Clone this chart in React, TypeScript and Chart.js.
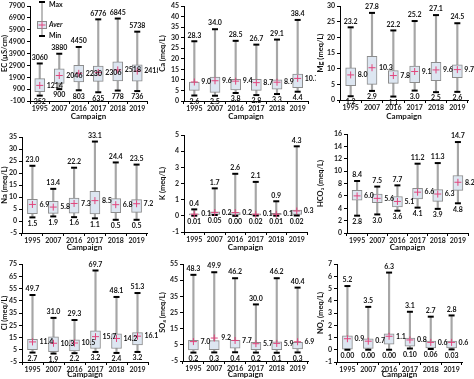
import React, { useEffect, useRef } from 'react';
import { Chart, registerables } from 'chart.js';
Chart.register(...registerables);

const FONT = 'Lato, "DejaVu Sans", sans-serif';

const CAMPAIGNS = ['1995', '2007', '2016', '2017', '2018', '2019'];

const EC_MAX = [3060, 3880, 4450, 6776, 6845, 5738];
const EC_Q3 = [1780, 2600, 2900, 2850, 3200, 2950];
const EC_MEAN = [1214, 2046, 2230, 2306, 2518, 2418];
const EC_Q1 = [680, 1370, 1500, 1550, 1600, 1560];
const EC_MIN = [352, 900, 803, 635, 778, 736];
const EC_TICKS = [-100, 900, 1900, 2900, 3900, 4900, 5900, 6900, 7900];

const CA_MAX = [28.3, 34.0, 28.5, 26.7, 29.1, 38.4];
const CA_Q3 = [9.0, 11.3, 10.3, 10.3, 10.0, 12.8];
const CA_MEAN = [9.0, 9.6, 9.4, 8.7, 8.9, 10.7];
const CA_Q1 = [5.0, 4.1, 5.3, 5.0, 5.6, 6.3];
const CA_MIN = [2.6, 2.5, 3.8, 2.8, 3.3, 4.4];
const CA_TICKS = [0, 5, 10, 15, 20, 25, 30, 35, 40, 45];

const MG_MAX = [23.2, 27.8, 22.2, 25.2, 27.1, 24.5];
const MG_Q3 = [10.3, 13.9, 9.4, 10.8, 12.0, 11.2];
const MG_MEAN = [8.0, 10.3, 7.8, 9.1, 9.6, 9.7];
const MG_Q1 = [4.6, 5.0, 5.3, 5.5, 6.2, 7.1];
const MG_MIN = [1.2, 2.9, 1.1, 3.0, 2.5, 2.6];
const MG_TICKS = [0, 5, 10, 15, 20, 25, 30];

const NA_MAX = [23.0, 13.4, 22.2, 33.1, 24.4, 23.5];
const NA_Q3 = [9.0, 8.2, 9.6, 12.4, 9.3, 8.9];
const NA_MEAN = [6.9, 5.8, 7.3, 8.5, 6.8, 7.2];
const NA_Q1 = [3.1, 3.2, 3.3, 2.9, 3.5, 3.6];
const NA_MIN = [1.5, 1.9, 1.6, 1.1, 0.5, 0.5];
const NA_TICKS = [-5, 0, 5, 10, 15, 20, 25, 30, 35];

const K_MAX = [0.4, 1.7, 2.6, 2.1, 0.9, 4.3];
const K_Q3 = [0.13, 0.25, 0.2, 0.12, 0.15, 0.36];
const K_MEAN = [0.1, 0.2, 0.2, 0.1, 0.1, 0.3];
const K_Q1 = [0.05, 0.08, 0.05, 0.04, 0.05, 0.08];
const K_MIN = [0.01, 0.05, 0.0, 0.02, 0.01, 0.02];
const K_TICKS = [-1, 0, 1, 2, 3, 4, 5];

const HCO3_MAX = [8.4, 7.5, 7.7, 11.2, 11.3, 14.7];
const HCO3_Q3 = [6.9, 6.3, 5.9, 7.2, 7.0, 9.3];
const HCO3_MEAN = [6.0, 5.6, 5.1, 6.6, 6.3, 8.2];
const HCO3_Q1 = [5.3, 4.9, 4.2, 5.5, 5.1, 6.9];
const HCO3_MIN = [2.8, 3.0, 3.6, 4.1, 3.9, 4.8];
const HCO3_TICKS = [0, 2, 4, 6, 8, 10, 12, 14, 16];

const CL_MAX = [49.7, 31.0, 29.3, 69.7, 48.1, 51.3];
const CL_Q3 = [13.5, 15.5, 13.0, 20.5, 18.0, 19.0];
const CL_MEAN = [11.4, 10.3, 10.5, 15.7, 14.2, 16.1];
const CL_Q1 = [5.0, 3.5, 4.0, 6.0, 6.0, 9.0];
const CL_MIN = [2.7, 1.9, 2.2, 3.2, 2.4, 3.2];
const CL_TICKS = [-5, 5, 15, 25, 35, 45, 55, 65, 75];

const SO4_MAX = [48.3, 49.9, 46.2, 30.0, 46.2, 40.4];
const SO4_Q3 = [7.8, 7.6, 7.8, 6.6, 6.8, 6.6];
const SO4_MEAN = [7.0, 9.2, 7.7, 5.7, 5.9, 6.9];
const SO4_Q1 = [1.8, 2.0, 3.0, 2.0, 2.0, 2.5];
const SO4_MIN = [0.2, 0.3, 0.4, 0.2, 0.1, 0.3];
const SO4_TICKS = [-5, 5, 15, 25, 35, 45, 55];

const NO3_MAX = [5.2, 3.5, 6.3, 3.1, 2.7, 2.8];
const NO3_Q3 = [1.14, 0.9, 1.3, 0.95, 0.7, 0.7];
const NO3_MEAN = [0.9, 0.7, 1.1, 0.8, 0.6, 0.6];
const NO3_Q1 = [0.05, 0.1, 0.45, 0.3, 0.15, 0.15];
const NO3_MIN = [0.0, 0.0, 0.0, 0.1, 0.06, 0.03];
const NO3_TICKS = [-1, 0, 1, 2, 3, 4, 5, 6, 7];

type Panel = {
  title: string;
  ticks: number[];
  max: number[];
  q3: number[];
  mean: number[];
  q1: number[];
  min: number[];
  dec: number;
  minDec: number;
  x0: number; y0: number; w: number; h: number;
  L: number; T: number; R: number; B: number;
  legend?: boolean;
};

const PANELS: Panel[] = [
  { title: 'EC (µS/cm)', ticks: EC_TICKS, max: EC_MAX, q3: EC_Q3, mean: EC_MEAN, q1: EC_Q1, min: EC_MIN, dec: 0, minDec: 0,
    x0: 0, y0: 0, w: 158, h: 121, L: 30, T: 5, R: 147, B: 101, legend: true },
  { title: 'Ca (meq/L)', ticks: CA_TICKS, max: CA_MAX, q3: CA_Q3, mean: CA_MEAN, q1: CA_Q1, min: CA_MIN, dec: 1, minDec: 1,
    x0: 158, y0: 0, w: 158, h: 121, L: 184, T: 5, R: 308, B: 101 },
  { title: 'Mg (meq/L)', ticks: MG_TICKS, max: MG_MAX, q3: MG_Q3, mean: MG_MEAN, q1: MG_Q1, min: MG_MIN, dec: 1, minDec: 1,
    x0: 316, y0: 0, w: 158, h: 121, L: 340, T: 5, R: 472, B: 100 },
  { title: 'Na (meq/L)', ticks: NA_TICKS, max: NA_MAX, q3: NA_Q3, mean: NA_MEAN, q1: NA_Q1, min: NA_MIN, dec: 1, minDec: 1,
    x0: 0, y0: 127, w: 158, h: 125, L: 22, T: 137, R: 147, B: 233 },
  { title: 'K (meq/L)', ticks: K_TICKS, max: K_MAX, q3: K_Q3, mean: K_MEAN, q1: K_Q1, min: K_MIN, dec: 1, minDec: 2,
    x0: 158, y0: 127, w: 158, h: 125, L: 184, T: 135, R: 307, B: 232 },
  { title: 'HCO₃ (meq/L)', ticks: HCO3_TICKS, max: HCO3_MAX, q3: HCO3_Q3, mean: HCO3_MEAN, q1: HCO3_Q1, min: HCO3_MIN, dec: 1, minDec: 1,
    x0: 316, y0: 127, w: 158, h: 125, L: 347, T: 134, R: 470, B: 233 },
  { title: 'Cl (meq/L)', ticks: CL_TICKS, max: CL_MAX, q3: CL_Q3, mean: CL_MEAN, q1: CL_Q1, min: CL_MIN, dec: 1, minDec: 1,
    x0: 0, y0: 256, w: 158, h: 123, L: 22, T: 264, R: 148, B: 362 },
  { title: 'SO₄ (meq/L)', ticks: SO4_TICKS, max: SO4_MAX, q3: SO4_Q3, mean: SO4_MEAN, q1: SO4_Q1, min: SO4_MIN, dec: 1, minDec: 1,
    x0: 158, y0: 256, w: 158, h: 123, L: 183, T: 264, R: 308, B: 361 },
  { title: 'NO₃ (meq/L)', ticks: NO3_TICKS, max: NO3_MAX, q3: NO3_Q3, mean: NO3_MEAN, q1: NO3_Q1, min: NO3_MIN, dec: 1, minDec: 2,
    x0: 316, y0: 256, w: 158, h: 123, L: 337, T: 264, R: 462, B: 362 },
];

const BOX_FILL = '#dde6f1';
const BOX_BORDER = '#8c8c8c';
const WHISKER = '#a6a6a6';
const MEAN_COLOR = '#e0467c';

function BoxPanel({ p }: { p: Panel }) {
  const ref = useRef<HTMLCanvasElement>(null);
  useEffect(() => {
    if (!ref.current) return;
    const labelPlugin = {
      id: 'boxLabels',
      afterDatasetsDraw(chart: any) {
        const { ctx, scales, chartArea } = chart;
        const x = scales.x;
        const y = scales.y;
        ctx.save();
        ctx.font = `bold 7px ${FONT}`;
        ctx.fillStyle = '#111';
        ctx.textBaseline = 'middle';
        p.max.forEach((v, i) => {
          const cx = x.getPixelForValue(i);
          ctx.textAlign = 'center';
          ctx.fillText(v.toFixed(p.dec), cx, y.getPixelForValue(v) - 6);
          ctx.fillText(p.min[i].toFixed(p.minDec), cx, y.getPixelForValue(p.min[i]) + 6);
          ctx.textAlign = 'left';
          ctx.fillText(p.mean[i].toFixed(p.dec), cx + 7, y.getPixelForValue(p.mean[i]));
        });
        if (p.legend) {
          const cx = chartArea.left + 12;
          const top = chartArea.top;
          const capTop = top - 4;
          const bTop = top + 15;
          const bBot = top + 23;
          const capBot = top + 30;
          ctx.fillStyle = WHISKER;
          ctx.fillRect(cx - 0.75, capTop, 1.5, capBot - capTop);
          ctx.fillStyle = BOX_FILL;
          ctx.fillRect(cx - 5, bTop, 10, bBot - bTop);
          ctx.strokeStyle = BOX_BORDER;
          ctx.lineWidth = 1;
          ctx.strokeRect(cx - 5 + 0.5, bTop + 0.5, 9, bBot - bTop - 1);
          ctx.strokeStyle = '#000';
          ctx.lineWidth = 2;
          ctx.beginPath();
          ctx.moveTo(cx - 3, capTop); ctx.lineTo(cx + 3, capTop);
          ctx.moveTo(cx - 3, capBot); ctx.lineTo(cx + 3, capBot);
          ctx.stroke();
          const my = (bTop + bBot) / 2;
          ctx.strokeStyle = MEAN_COLOR;
          ctx.lineWidth = 1;
          ctx.beginPath();
          ctx.moveTo(cx - 3.5, my); ctx.lineTo(cx + 3.5, my);
          ctx.moveTo(cx, my - 3.5); ctx.lineTo(cx, my + 3.5);
          ctx.stroke();
          ctx.fillStyle = '#111';
          ctx.textAlign = 'left';
          ctx.font = `bold 7px ${FONT}`;
          ctx.fillText('Max', cx + 7, capTop + 3);
          ctx.font = `italic bold 7px ${FONT}`;
          ctx.fillText('Aver', cx + 7, my);
          ctx.font = `bold 7px ${FONT}`;
          ctx.fillText('Min', cx + 7, capBot);
        }
        ctx.restore();
      },
    };

    const tickFont = { size: 7, weight: 'bold' as const, family: FONT };
    const chart = new Chart(ref.current, {
      type: 'bar',
      data: {
        labels: CAMPAIGNS,
        datasets: [
          {
            type: 'bar',
            data: p.min.map((m, i) => [m, p.max[i]]) as any,
            backgroundColor: WHISKER,
            barThickness: 1.5,
            grouped: false,
            order: 3,
          } as any,
          {
            type: 'bar',
            data: p.q1.map((q, i) => [q, p.q3[i]]) as any,
            backgroundColor: BOX_FILL,
            borderColor: BOX_BORDER,
            borderWidth: 1,
            borderSkipped: false,
            barThickness: 10,
            grouped: false,
            order: 2,
          } as any,
          {
            type: 'line',
            data: p.max,
            showLine: false,
            pointStyle: 'line',
            pointRadius: 3,
            pointBorderWidth: 2,
            pointBorderColor: '#000',
            pointBackgroundColor: '#000',
            order: 1,
            clip: false,
          } as any,
          {
            type: 'line',
            data: p.min,
            showLine: false,
            pointStyle: 'line',
            pointRadius: 3,
            pointBorderWidth: 2,
            pointBorderColor: '#000',
            pointBackgroundColor: '#000',
            order: 1,
            clip: false,
          } as any,
          {
            type: 'line',
            data: p.mean,
            showLine: false,
            pointStyle: 'cross',
            pointRadius: 3.5,
            pointBorderWidth: 1,
            pointBorderColor: MEAN_COLOR,
            order: 0,
            clip: false,
          } as any,
        ],
      },
      options: {
        responsive: false,
        animation: false,
        devicePixelRatio: 1,
        events: [],
        layout: {
          padding: { left: 0, top: p.T - p.y0, right: p.x0 + p.w - p.R, bottom: 0 },
        },
        plugins: { legend: { display: false }, tooltip: { enabled: false } },
        scales: {
          x: {
            ticks: { font: tickFont, color: '#222', padding: 1, maxRotation: 0, autoSkip: false },
            grid: { display: true, drawOnChartArea: false, drawTicks: true, tickLength: 3, color: '#000' },
            border: { display: true, color: '#000', width: 1 },
            title: { display: true, text: 'Campaign', font: { size: 8, weight: 'bold', family: FONT }, color: '#111', padding: 0 },
            afterFit: (s: any) => {
              s.height = p.y0 + p.h - p.B;
              s.paddingLeft = 0;
              s.paddingRight = 0;
            },
          },
          y: {
            min: p.ticks[0],
            max: p.ticks[p.ticks.length - 1],
            afterBuildTicks: (s: any) => { s.ticks = p.ticks.map((v) => ({ value: v })); },
            ticks: { font: tickFont, color: '#222', padding: 2, autoSkip: false, callback: (v: any) => String(v) },
            grid: { display: true, drawOnChartArea: false, drawTicks: true, tickLength: 3, color: '#000' },
            border: { display: true, color: '#000', width: 1 },
            title: { display: true, text: p.title, font: { size: 7.5, weight: 'bold', family: FONT }, color: '#111', padding: 0 },
            afterFit: (s: any) => {
              s.width = p.L - p.x0;
              s.paddingTop = 0;
              s.paddingBottom = 0;
            },
          },
        },
      } as any,
      plugins: [labelPlugin],
    });
    return () => chart.destroy();
  }, [p]);

  return (
    <div style={{ position: 'absolute', left: p.x0, top: p.y0, width: p.w, height: p.h }}>
      <canvas ref={ref} width={p.w} height={p.h} style={{ display: 'block', width: p.w, height: p.h }} />
    </div>
  );
}

export default function App() {
  return (
    <div style={{ position: 'absolute', left: 0, top: 0, width: 474, height: 379, background: '#fff', overflow: 'hidden' }}>
      {PANELS.map((p, i) => (
        <BoxPanel key={i} p={p} />
      ))}
    </div>
  );
}
